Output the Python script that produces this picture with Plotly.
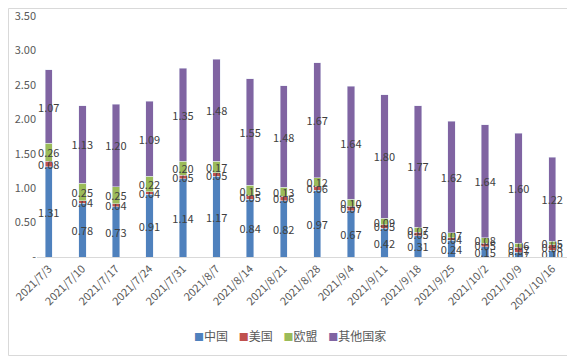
import plotly.graph_objects as go

categories = ["2021/7/3", "2021/7/10", "2021/7/17", "2021/7/24", "2021/7/31", "2021/8/7",
              "2021/8/14", "2021/8/21", "2021/8/28", "2021/9/4", "2021/9/11", "2021/9/18",
              "2021/9/25", "2021/10/2", "2021/10/9", "2021/10/16"]
china = [1.31, 0.78, 0.73, 0.91, 1.14, 1.17, 0.84, 0.82, 0.97, 0.67, 0.42, 0.31, 0.24, 0.15, 0.07, 0.10]
usa = [0.08, 0.04, 0.04, 0.04, 0.05, 0.05, 0.05, 0.06, 0.06, 0.07, 0.05, 0.05, 0.04, 0.05, 0.07, 0.08]
eu = [0.26, 0.25, 0.25, 0.22, 0.20, 0.17, 0.15, 0.13, 0.12, 0.10, 0.09, 0.07, 0.07, 0.08, 0.06, 0.05]
others = [1.07, 1.13, 1.20, 1.09, 1.35, 1.48, 1.55, 1.48, 1.67, 1.64, 1.80, 1.77, 1.62, 1.64, 1.60, 1.22]
series_names = ["中国", "美国", "欧盟", "其他国家"]
colors = ["#4F81BD", "#C0504D", "#9BBB59", "#8064A2"]
ytick_vals = [0, 0.5, 1.0, 1.5, 2.0, 2.5, 3.0, 3.5]
ytick_text = ["-", "0.50", "1.00", "1.50", "2.00", "2.50", "3.00", "3.50"]

font_family = "Noto Sans CJK SC, Liberation Sans, sans-serif"
fig = go.Figure()
for name, vals, col in zip(series_names, [china, usa, eu, others], colors):
    fig.add_trace(go.Bar(
        x=list(range(len(categories))), y=vals, name=name, marker_color=col,
        width=0.22, text=[f"{v:.2f}" for v in vals], textposition="inside",
        insidetextanchor="middle", textangle=0, showlegend=False,
        textfont=dict(color="#404040", size=11, family=font_family),
    ))

# compact legend (as in the reference), built from the series names and colours
nb = "\u00a0"
legend_text = (nb * 4).join(
    f"<span style='color:{c};font-size:10px'>■</span>{n}" for n, c in zip(series_names, colors)
)

# the page body has an 8px margin, so the figure is sized to fit the window
W, H = 567, 348
L, R, T, B = 29, 6, 8, 99
pw, ph = W - L - R, H - T - B
fig.update_layout(
    barmode="stack", width=W, height=H,
    margin=dict(l=L, r=R, t=T, b=B, autoexpand=False),
    paper_bgcolor="white", plot_bgcolor="white",
    font=dict(family=font_family, color="#595959", size=11),
    uniformtext=dict(minsize=11, mode="show"),
    showlegend=False,
    xaxis=dict(tickmode="array", tickvals=list(range(len(categories))), ticktext=categories,
               tickangle=-45, range=[-0.35, 15.5], showgrid=False, showline=True,
               automargin=False, ticklabeloverflow="allow",
               linecolor="#D9D9D9", ticks="", tickfont=dict(size=11, color="#595959")),
    yaxis=dict(range=[0, 3.5], tickvals=ytick_vals, ticktext=ytick_text, showgrid=False,
               automargin=False, ticklabeloverflow="allow",
               zeroline=False, showline=False, ticks="", tickfont=dict(size=11, color="#595959")),
    annotations=[dict(text=legend_text, xref="paper", yref="paper", x=0.4756, y=-0.3237,
                      xanchor="center", yanchor="middle", showarrow=False,
                      font=dict(size=12, color="#595959", family=font_family))],
    shapes=[dict(type="rect", xref="paper", yref="paper",
                 x0=-(L - 0.5) / pw, x1=1 + (R - 0.5) / pw, y0=-(B - 0.5) / ph, y1=1 + (T - 0.5) / ph,
                 line=dict(color="#D9D9D9", width=1))],
)
fig.write_html("out.html")
